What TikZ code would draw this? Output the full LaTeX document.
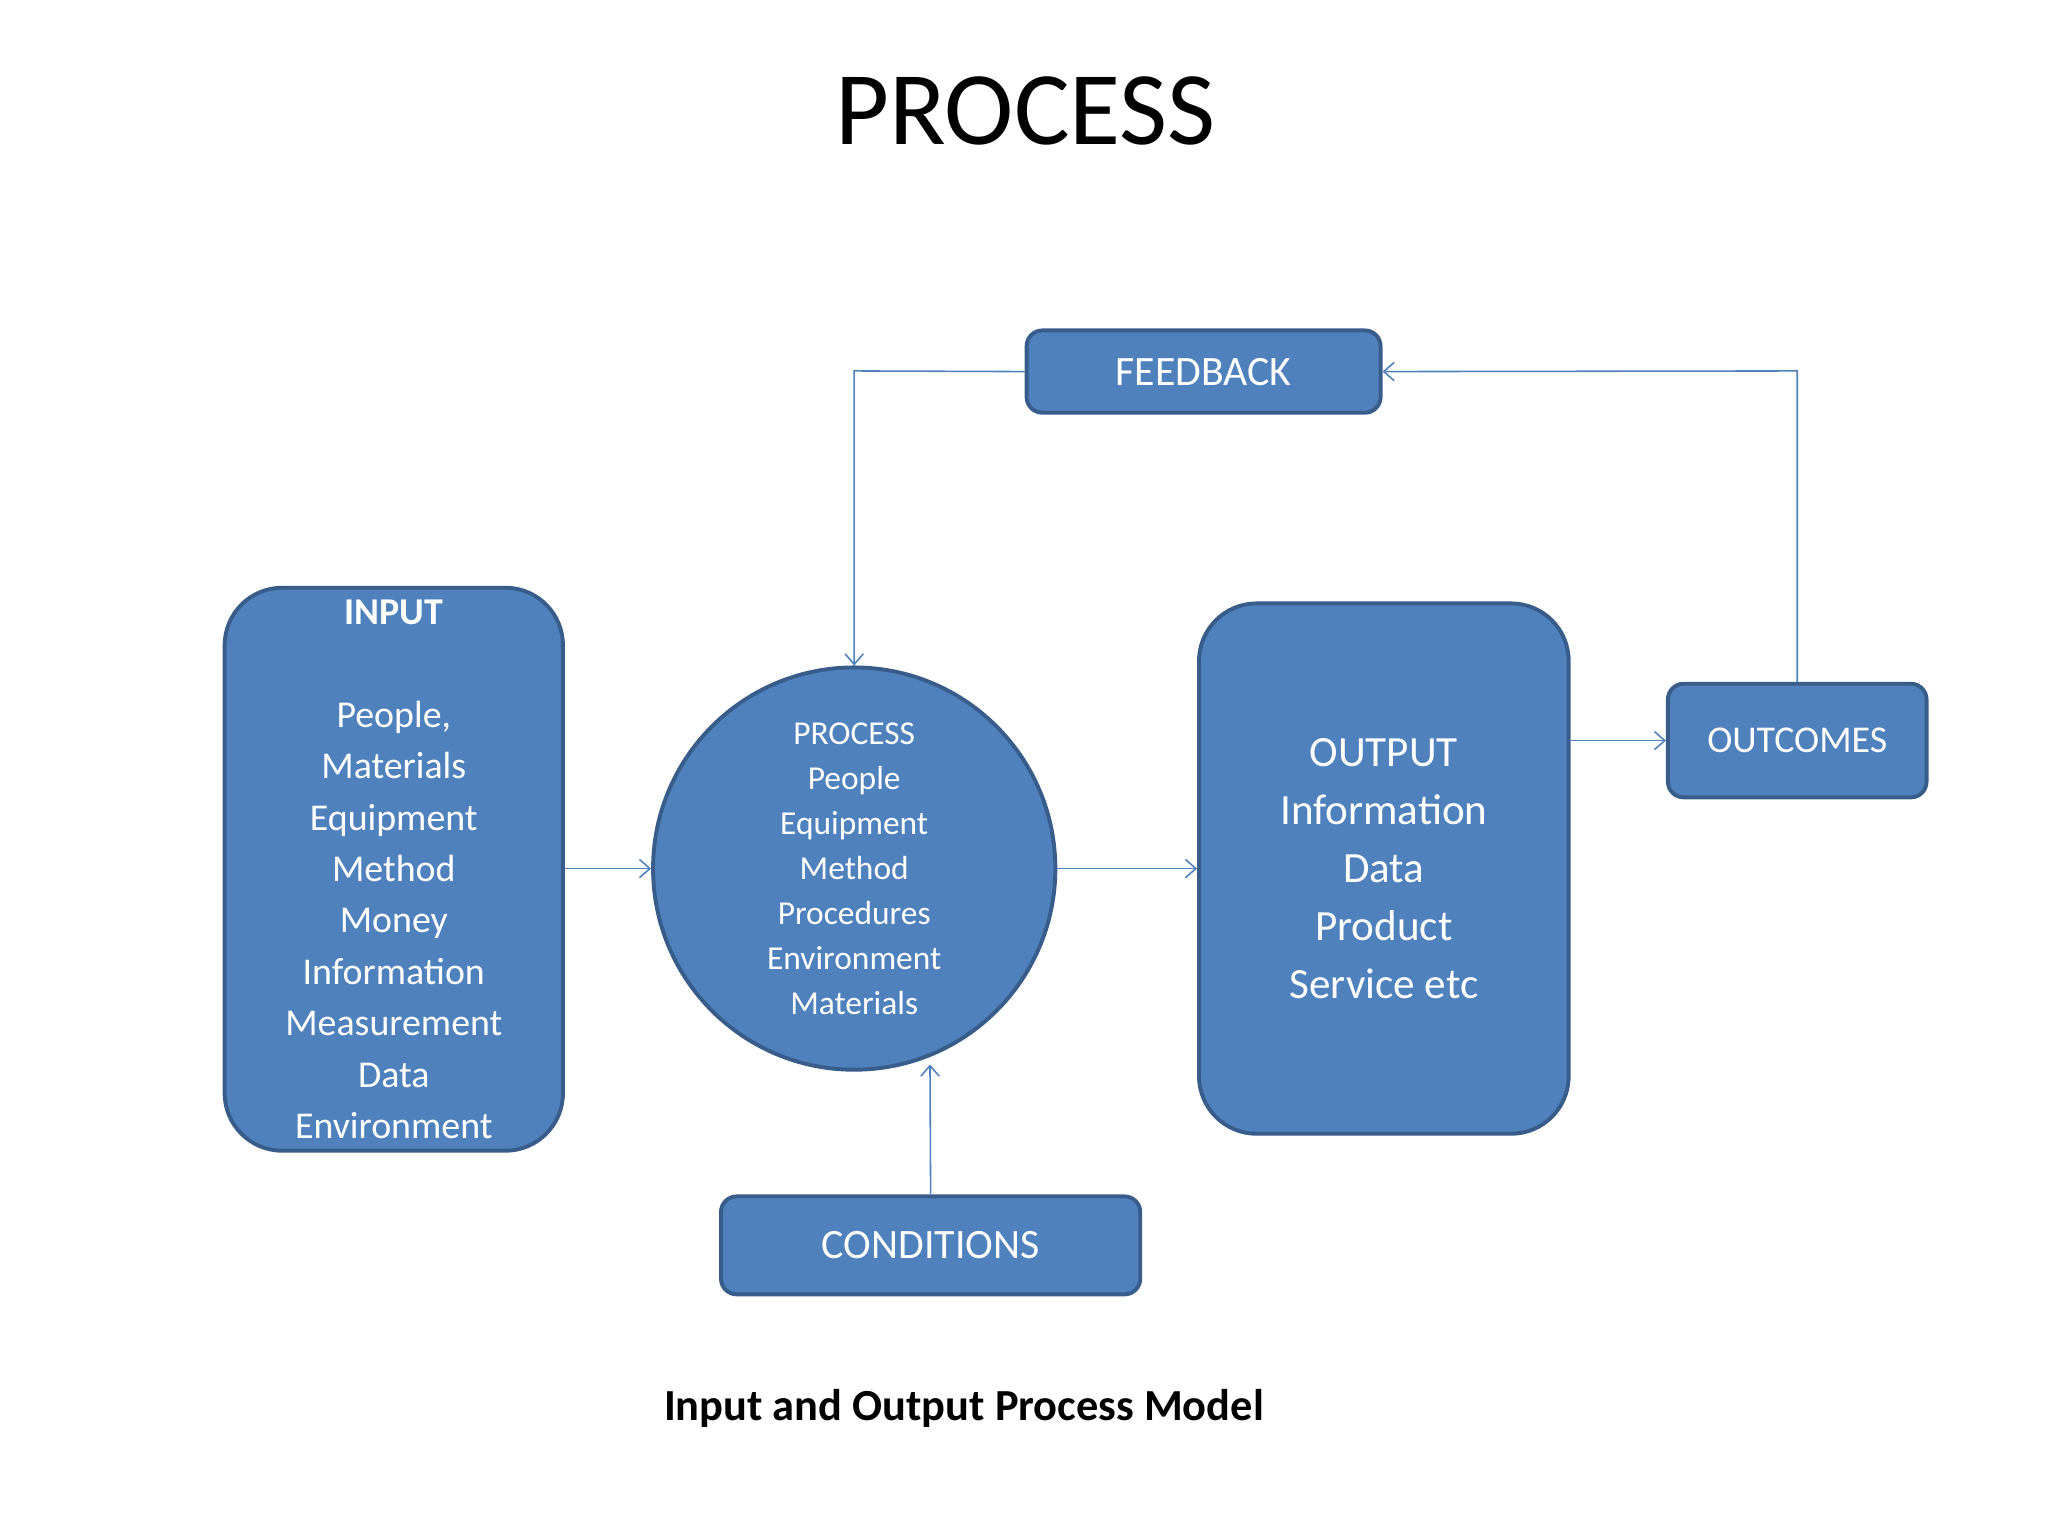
\documentclass[tikz,border=0pt]{standalone}
\usepackage{fontspec}
\setmainfont{Carlito}
\usetikzlibrary{arrows.meta}
\definecolor{fillb}{HTML}{4F81BD}
\definecolor{edgeb}{HTML}{385D8A}
\begin{document}
\begin{tikzpicture}[x=0.5pt,y=-0.5pt,
  box/.style={draw=edgeb,fill=fillb,line width=1.5pt,text=white,align=center,inner sep=0pt},
  conn/.style={draw=fillb,line width=0.6pt,-{Straight Barb[length=4pt,width=7pt]}}]
\useasboundingbox (0,0) rectangle (1568,1176);
\node (title) at (785,85) {\fontsize{40}{44}\selectfont PROCESS};
\node[box,rounded corners=22pt,minimum width=129.5pt,minimum height=215.5pt] (input) at (301.5,665.5) {};
\node[text=white,align=center,font=\fontsize{14.5}{19.7}\selectfont,anchor=north] (inputt) at (301.5,452)
 {\textbf{INPUT}\\[19.7pt]People,\\Materials\\Equipment\\Method\\Money\\Information\\Measurement\\Data\\Environment};
\node[box,circle,minimum size=154pt,font=\fontsize{12.8}{17.2}\selectfont] (proc) at (654,665)
 {PROCESS\\People\\Equipment\\Method\\Procedures\\Environment\\Materials};
\node[box,rounded corners=22pt,minimum width=141.5pt,minimum height=203pt,font=\fontsize{16.5}{22.2}\selectfont] (output) at (1059.5,665)
 {OUTPUT\\Information\\Data\\Product\\Service etc};
\node[box,rounded corners=6pt,minimum width=99pt,minimum height=43.5pt,font=\fontsize{14.5}{17}\selectfont] (outcomes) at (1376,567) {OUTCOMES};
\node[box,rounded corners=6pt,minimum width=135.5pt,minimum height=31.5pt,font=\fontsize{16}{19}\selectfont] (feedback) at (921.5,284.5) {FEEDBACK};
\node[box,rounded corners=6pt,minimum width=160.5pt,minimum height=37.5pt,font=\fontsize{16}{19}\selectfont] (cond) at (712.5,953.5) {CONDITIONS};
\node[font=\bfseries\fontsize{17}{20}\selectfont] (cap) at (738,1078) {Input and Output Process Model};
\coordinate (c1) at (1376,284);
\coordinate (c2) at (654,284);
\draw[conn] (input.east |- proc) -- (proc.west);
\draw[conn] (proc.east) -- (output.west |- proc);
\draw[conn] (output.east |- outcomes) -- (outcomes.west);
\draw[conn] (outcomes.north) -- (c1) -- (feedback.east);
\draw[conn] (feedback.west) -- (c2) -- (proc.north);
\draw[conn] (cond.north) -- (712,815);
\end{tikzpicture}
\end{document}
